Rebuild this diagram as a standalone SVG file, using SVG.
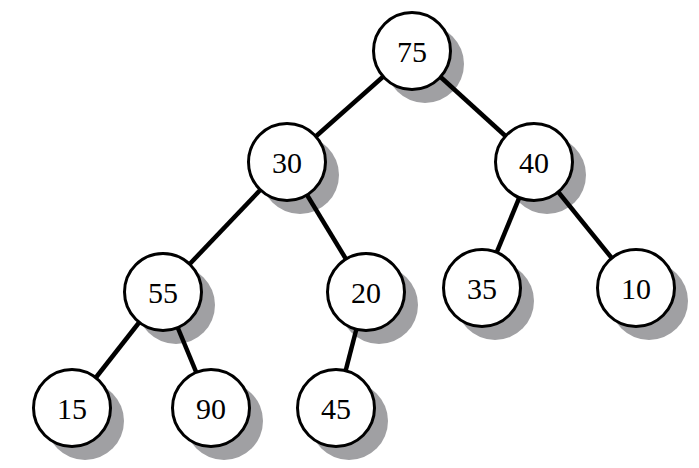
<svg xmlns="http://www.w3.org/2000/svg" width="699" height="468" viewBox="0 0 699 468">
<defs>
<style>
.sh{fill:#a0a0a3;stroke:none}
.nd{fill:#fff;stroke:#000;stroke-width:3}
.lb{font-family:"Liberation Serif","Times New Roman",serif;font-size:30px;fill:#000;text-anchor:middle}
#edges line{stroke:#000;stroke-width:4.5}
</style>
</defs>
<rect width="699" height="468" fill="#fff"/>
<g id="shadows">
<circle class="sh" cx="425" cy="64" r="39"/>
<circle class="sh" cx="300" cy="175" r="39"/>
<circle class="sh" cx="547" cy="175" r="39"/>
<circle class="sh" cx="176" cy="305" r="39"/>
<circle class="sh" cx="379" cy="305" r="39"/>
<circle class="sh" cx="495" cy="301" r="39"/>
<circle class="sh" cx="649" cy="301" r="39"/>
<circle class="sh" cx="85" cy="421" r="39"/>
<circle class="sh" cx="224" cy="421" r="39"/>
<circle class="sh" cx="349" cy="421" r="39"/>
</g>
<g id="edges">
<line x1="412" y1="51" x2="287" y2="162"/>
<line x1="412" y1="51" x2="534" y2="162"/>
<line x1="287" y1="162" x2="163" y2="292"/>
<line x1="287" y1="162" x2="366" y2="292"/>
<line x1="534" y1="162" x2="482" y2="288"/>
<line x1="534" y1="162" x2="636" y2="288"/>
<line x1="163" y1="292" x2="72" y2="408"/>
<line x1="163" y1="292" x2="211" y2="408"/>
<line x1="366" y1="292" x2="336" y2="408"/>
</g>
<g id="n75"><circle class="nd" cx="412" cy="51" r="38.5"/><text class="lb" x="412" y="62">75</text></g>
<g id="n30"><circle class="nd" cx="287" cy="162" r="38.5"/><text class="lb" x="287" y="173">30</text></g>
<g id="n40"><circle class="nd" cx="534" cy="162" r="38.5"/><text class="lb" x="534" y="173">40</text></g>
<g id="n55"><circle class="nd" cx="163" cy="292" r="38.5"/><text class="lb" x="163" y="303">55</text></g>
<g id="n20"><circle class="nd" cx="366" cy="292" r="38.5"/><text class="lb" x="366" y="303">20</text></g>
<g id="n35"><circle class="nd" cx="482" cy="288" r="38.5"/><text class="lb" x="482" y="299">35</text></g>
<g id="n10"><circle class="nd" cx="636" cy="288" r="38.5"/><text class="lb" x="636" y="299">10</text></g>
<g id="n15"><circle class="nd" cx="72" cy="408" r="38.5"/><text class="lb" x="72" y="419">15</text></g>
<g id="n90"><circle class="nd" cx="211" cy="408" r="38.5"/><text class="lb" x="211" y="419">90</text></g>
<g id="n45"><circle class="nd" cx="336" cy="408" r="38.5"/><text class="lb" x="336" y="419">45</text></g>
</svg>
